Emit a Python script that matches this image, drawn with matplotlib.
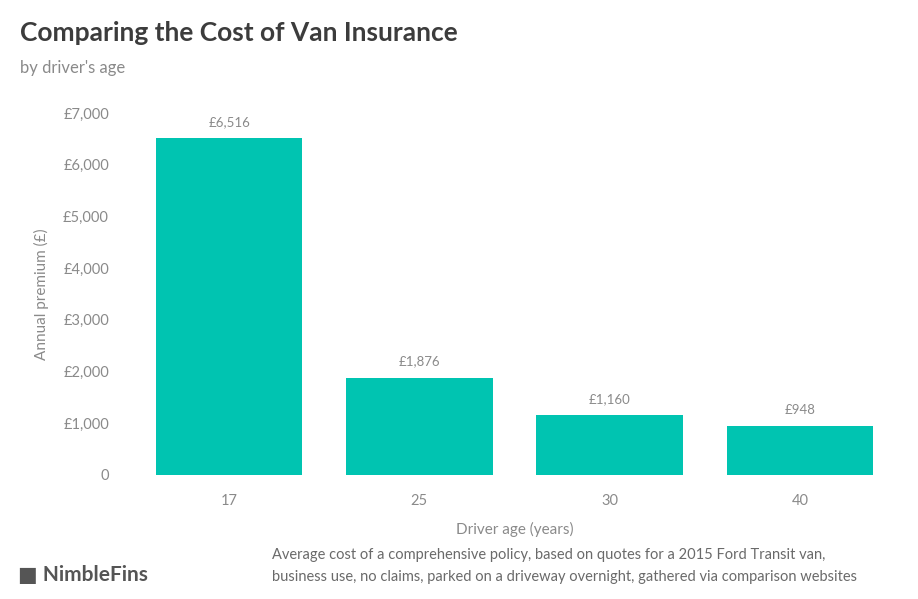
import matplotlib
matplotlib.use("Agg")
import matplotlib.pyplot as plt

# data
ages = ["17", "25", "30", "40"]
premiums = [6516, 1876, 1160, 948]
y_ticks = [0, 1000, 2000, 3000, 4000, 5000, 6000, 7000]

teal = "#00C4B1"
grey = "#8a8a8a"
dark = "#3c3c3c"

plt.rcParams['font.family'] = ['Lato', 'DejaVu Sans']

fig = plt.figure(figsize=(9.18, 5.99), dpi=100)
ax = fig.add_axes([134/918, 1 - 475/599, (895 - 134)/918, (475 - 113)/599])

bars = ax.bar(range(len(ages)), premiums, width=0.77, color=teal)
for b, v in zip(bars, premiums):
    ax.text(b.get_x() + b.get_width()/2, v + 200, "£{:,}".format(v),
            ha='center', va='bottom', fontsize=9.5, color=grey)

ax.set_xlim(-0.5, len(ages) - 0.5)
ax.set_ylim(0, 7000)
ax.set_yticks(y_ticks)
ax.set_yticklabels(["£{:,}".format(t) if t else "0" for t in y_ticks])
ax.set_xticks(range(len(ages)))
ax.set_xticklabels(ages)
ax.tick_params(length=0, labelsize=10.5, colors=grey, pad=18)
ax.tick_params(axis='x', pad=14)
for s in ax.spines.values():
    s.set_visible(False)

ax.set_ylabel("Annual premium (£)", fontsize=11, color=grey, labelpad=10)
ax.set_xlabel("Driver age (years)", fontsize=11, color=grey, labelpad=10)

fig.text(20/918, 1 - 33/599, "Comparing the Cost of Van Insurance",
         fontsize=19, fontweight='bold', color=dark, va='center')
fig.text(20/918, 1 - 68/599, "by driver's age",
         fontsize=12, color=grey, va='center')

fig.text(18/918, 1 - 575/599, "\u25A0 NimbleFins", fontsize=15,
         fontweight='bold', color="#555555", va='center')
fig.text(272/918, 1 - 566/599,
         "Average cost of a comprehensive policy, based on quotes for a 2015 Ford Transit van,\n"
         "business use, no claims, parked on a driveway overnight, gathered via comparison websites",
         fontsize=10.5, color="#6a6a6a", va='center', linespacing=1.8)

fig.savefig("out.png", dpi=100)
